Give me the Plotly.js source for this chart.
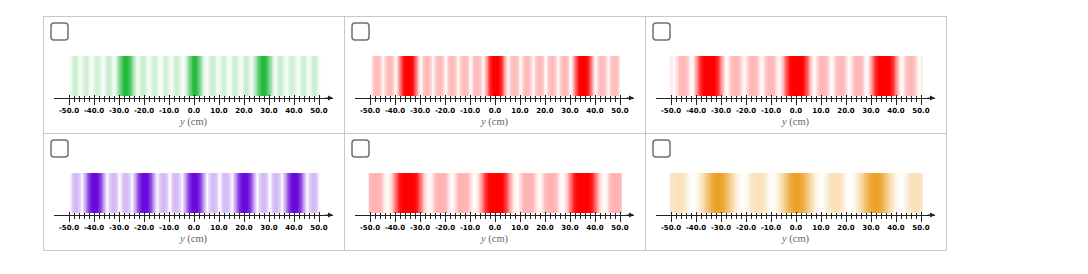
<!DOCTYPE html>
<html><head><meta charset="utf-8">
<script src="https://cdn.plot.ly/plotly-3.0.1.min.js"></script>
<style>html,body{margin:0;padding:0;background:#fff;overflow:hidden}#chart{width:1088px;height:274px}</style>
</head><body><div id="chart"></div>
<script>
// screen position y (cm), sampled every 1 cm from -50 to 50
const positionStart = -50;
const positionStep = 1;
const tickValues = [-50, -40, -30, -20, -10, 0, 10, 20, 30, 40, 50];
const tickLabels = ['-50.0', '-40.0', '-30.0', '-20.0', '-10.0', '0.0', '10.0', '20.0', '30.0', '40.0', '50.0'];
const axisTitle = '<i>y</i> (cm)';

// relative intensity (y = -50 ... 50 cm)
const greenIntensity = [
  0.02,0.15,0.25,0.19,0.04,0.07,0.2,0.22,0.07,0.02,
  0.15,0.23,0.17,0.04,0.07,0.22,0.25,0.12,0.03,0.28,
  0.55,0.8,0.97,0.97,0.8,0.55,0.28,0.03,0.12,0.25,
  0.22,0.07,0.04,0.17,0.23,0.15,0.02,0.07,0.22,0.2,
  0.07,0.04,0.19,0.25,0.15,0.02,0.07,0.3,0.6,0.85,
  1,
  0.85,0.6,0.3,0.07,0.02,0.15,0.25,0.19,0.04,0.07,
  0.2,0.22,0.07,0.02,0.15,0.23,0.17,0.04,0.07,0.22,
  0.25,0.12,0.03,0.28,0.55,0.8,0.97,0.97,0.8,0.55,
  0.28,0.03,0.12,0.25,0.22,0.07,0.04,0.17,0.23,0.15,
  0.02,0.07,0.22,0.2,0.07,0.04,0.19,0.25,0.15,0.02
];
const redSevenIntensity = [
  0,0.2,0.27,0.27,0.2,0,0.2,0.27,0.27,0.2,
  0,0.25,0.6,0.9,1,1,1,0.9,0.6,0.25,
  0,0.2,0.27,0.27,0.2,0,0.2,0.27,0.27,0.2,
  0,0.2,0.27,0.27,0.2,0,0.2,0.27,0.27,0.2,
  0,0.2,0.27,0.27,0.2,0,0.25,0.6,0.9,1,
  1,
  1,0.9,0.6,0.25,0,0.2,0.27,0.27,0.2,0,
  0.2,0.27,0.27,0.2,0,0.2,0.27,0.27,0.2,0,
  0.2,0.27,0.27,0.2,0,0.2,0.27,0.27,0.2,0,
  0.25,0.6,0.9,1,1,1,0.9,0.6,0.25,0,
  0.2,0.27,0.27,0.2,0,0.2,0.27,0.27,0.2,0
];
const redFiveIntensity = [
  0.08,0,0.12,0.25,0.28,0.28,0.25,0.12,0,0.15,
  0.4,0.7,0.9,1,1,1,1,1,0.9,0.7,
  0.4,0.15,0,0.12,0.25,0.28,0.28,0.25,0.12,0,
  0.12,0.25,0.28,0.28,0.25,0.12,0,0.12,0.25,0.28,
  0.28,0.25,0.12,0,0.15,0.4,0.7,0.9,1,1,
  1,
  1,1,0.9,0.7,0.4,0.15,0,0.12,0.25,0.28,
  0.28,0.25,0.12,0,0.12,0.25,0.28,0.28,0.25,0.12,
  0,0.12,0.25,0.28,0.28,0.25,0.12,0,0.15,0.4,
  0.7,0.9,1,1,1,1,1,0.9,0.7,0.4,
  0.15,0,0.12,0.25,0.28,0.28,0.25,0.12,0,0.08
];
const purpleIntensity = [
  0,0.2,0.28,0.28,0.2,0,0.3,0.6,0.85,1,
  1,1,0.85,0.6,0.3,0,0.2,0.28,0.28,0.2,
  0,0.2,0.28,0.28,0.2,0,0.3,0.6,0.85,1,
  1,1,0.85,0.6,0.3,0,0.2,0.28,0.28,0.2,
  0,0.2,0.28,0.28,0.2,0,0.3,0.6,0.85,1,
  1,
  1,0.85,0.6,0.3,0,0.2,0.28,0.28,0.2,0,
  0.2,0.28,0.28,0.2,0,0.3,0.6,0.85,1,1,
  1,0.85,0.6,0.3,0,0.2,0.28,0.28,0.2,0,
  0.2,0.28,0.28,0.2,0,0.3,0.6,0.85,1,1,
  1,0.85,0.6,0.3,0,0.2,0.28,0.28,0.2,0
];
const redFourIntensity = [
  0.27,0.3,0.3,0.3,0.27,0.15,0.02,0.02,0.12,0.3,
  0.55,0.8,0.95,1,1,1,1,1,0.95,0.8,
  0.55,0.3,0.12,0.02,0.02,0.15,0.27,0.3,0.3,0.3,
  0.27,0.15,0.03,0.03,0.15,0.27,0.3,0.3,0.3,0.27,
  0.15,0.02,0.02,0.12,0.3,0.55,0.8,0.95,1,1,
  1,
  1,1,0.95,0.8,0.55,0.3,0.12,0.02,0.02,0.15,
  0.27,0.3,0.3,0.3,0.27,0.15,0.03,0.03,0.15,0.27,
  0.3,0.3,0.3,0.27,0.15,0.02,0.02,0.12,0.3,0.55,
  0.8,0.95,1,1,1,1,1,0.95,0.8,0.55,
  0.3,0.12,0.02,0.02,0.15,0.27,0.3,0.3,0.3,0.27
];
const orangeIntensity = [
  0.25,0.3,0.32,0.32,0.3,0.25,0.15,0.05,0,0.02,
  0.07,0.16,0.28,0.42,0.57,0.72,0.85,0.94,0.99,0.99,
  0.94,0.85,0.72,0.57,0.42,0.28,0.16,0.07,0.02,0,
  0.05,0.15,0.25,0.3,0.32,0.32,0.3,0.25,0.15,0.05,
  0.01,0.04,0.1,0.22,0.35,0.5,0.65,0.8,0.9,0.97,
  1,
  0.97,0.9,0.8,0.65,0.5,0.35,0.22,0.1,0.04,0.01,
  0.05,0.15,0.25,0.3,0.32,0.32,0.3,0.25,0.15,0.05,
  0,0.02,0.07,0.16,0.28,0.42,0.57,0.72,0.85,0.94,
  0.99,0.99,0.94,0.85,0.72,0.57,0.42,0.28,0.16,0.07,
  0.02,0,0.05,0.15,0.25,0.3,0.32,0.32,0.3,0.25
];

const panelIntensities = [greenIntensity, redSevenIntensity, redFiveIntensity, purpleIntensity, redFourIntensity, orangeIntensity];
const panelColors = ['#1cb836', '#ff0000', '#ff0000', '#6a0adc', '#ff0000', '#eba024'];

// ---------- layout ----------
const W = 1088, H = 274;
const px = x => x / W;
const py = y => 1 - y / H;
const colLeft = [43, 344, 645];
const rowTop = [16, 133];

const minorTicks = [];
for (let i = 0; i < tickValues.length - 1; i++) {
  for (let k = 1; k < 5; k++) minorTicks.push(tickValues[i] + (tickValues[i + 1] - tickValues[i]) * k / 5);
}

function roundRect(x0, y0, x1, y1, r) {
  const P = (x, y) => px(x) + ',' + py(y);
  return 'M' + P(x0 + r, y0) + ' L' + P(x1 - r, y0) + ' Q' + P(x1, y0) + ' ' + P(x1, y0 + r) +
    ' L' + P(x1, y1 - r) + ' Q' + P(x1, y1) + ' ' + P(x1 - r, y1) +
    ' L' + P(x0 + r, y1) + ' Q' + P(x0, y1) + ' ' + P(x0, y1 - r) +
    ' L' + P(x0, y0 + r) + ' Q' + P(x0, y0) + ' ' + P(x0 + r, y0) + ' Z';
}

const data = [];
const layout = {
  width: W, height: H,
  margin: {l: 0, r: 0, t: 0, b: 0},
  paper_bgcolor: '#ffffff', plot_bgcolor: 'rgba(0,0,0,0)',
  showlegend: false,
  shapes: [], annotations: []
};

const XR = [-56, 55.6];
panelIntensities.forEach((vals, i) => {
  const col = i % 3, row = Math.floor(i / 3);
  const L = colLeft[col], T = rowTop[row];
  const mainN = 2 * i + 1, ovN = 2 * i + 2, yN = i + 1;
  const mainId = 'x' + (mainN === 1 ? '' : mainN);
  const ovId = 'x' + ovN;
  const yId = 'y' + (yN === 1 ? '' : yN);
  const dom = [px(L + 11), px(L + 290)];

  layout['xaxis' + (mainN === 1 ? '' : mainN)] = {
    domain: dom, range: XR, anchor: yId, fixedrange: true,
    showgrid: false, zeroline: false,
    showline: true, linecolor: '#222', linewidth: 1,
    ticks: 'outside', ticklen: 6, tickwidth: 1, tickcolor: '#222',
    tickmode: 'array', tickvals: tickValues, ticktext: tickLabels,
    tickfont: {family: 'DejaVu Sans', size: 7, color: '#000', weight: 'bold'},
    minor: {tickmode: 'array', tickvals: minorTicks, ticks: 'outside', ticklen: 3, tickwidth: 1, tickcolor: '#222', showgrid: false},
    title: {text: axisTitle, font: {family: 'Liberation Serif', size: 10.5, color: '#666'}, standoff: 3},
    automargin: false
  };
  layout['xaxis' + ovN] = {
    domain: dom, range: XR, anchor: yId, overlaying: mainId, fixedrange: true,
    showgrid: false, zeroline: false, showline: false,
    ticks: 'inside', ticklen: 3, tickwidth: 1, tickcolor: '#222',
    tickmode: 'array', tickvals: tickValues, showticklabels: false,
    minor: {tickmode: 'array', tickvals: minorTicks, ticks: 'inside', ticklen: 2, tickwidth: 1, tickcolor: '#222', showgrid: false},
    automargin: false
  };
  layout['yaxis' + (yN === 1 ? '' : yN)] = {
    domain: [py(T + 82), py(T + 40)], range: [-0.05, 1], anchor: mainId,
    visible: false, fixedrange: true, showgrid: false, zeroline: false
  };

  data.push({
    type: 'heatmap', z: [vals, vals], x0: positionStart, dx: positionStep, y: [0.25, 0.75],
    zmin: 0, zmax: 1, zsmooth: 'best',
    colorscale: [[0, '#ffffff'], [1, panelColors[i]]],
    showscale: false, hoverinfo: 'skip', xaxis: mainId, yaxis: yId
  });
  data.push({type: 'scatter', x: [], y: [], xaxis: ovId, yaxis: yId, hoverinfo: 'skip', showlegend: false});

  layout.annotations.push({
    xref: mainId, yref: yId, x: XR[1], y: -0.05, ax: -9, ay: 0,
    text: '', showarrow: true, arrowhead: 2, arrowsize: 1, arrowwidth: 1, arrowcolor: '#222', standoff: 0
  });

  layout.shapes.push({
    type: 'path', xref: 'paper', yref: 'paper', layer: 'above',
    path: roundRect(L + 8, T + 7, L + 25, T + 24, 3),
    line: {color: '#707070', width: 1.5}, fillcolor: '#ffffff'
  });
});

// table grid
const gridColor = '#c8c8c8';
[43.5, 344.5, 645.5, 946.5].forEach(x => layout.shapes.push({
  type: 'line', xref: 'paper', yref: 'paper', x0: px(x), x1: px(x), y0: py(16), y1: py(250.5),
  line: {color: gridColor, width: 1}
}));
[16.5, 133.5, 250.5].forEach(y => layout.shapes.push({
  type: 'line', xref: 'paper', yref: 'paper', x0: px(43), x1: px(947), y0: py(y), y1: py(y),
  line: {color: gridColor, width: 1}
}));

Plotly.newPlot('chart', data, layout, {staticPlot: true, displayModeBar: false});
</script>
</body></html>
